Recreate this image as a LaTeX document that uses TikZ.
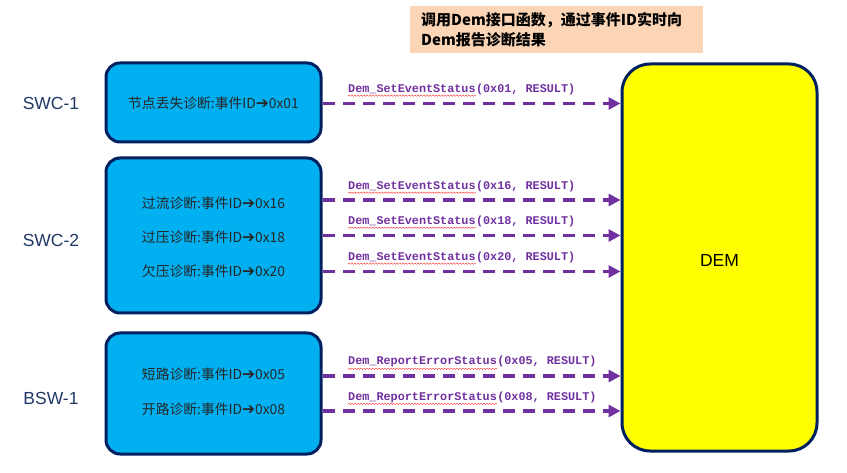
\documentclass[tikz,border=0pt]{standalone}
\usepackage{fontspec}
\setmainfont{Liberation Sans}
\newfontfamily\cjk{Noto Sans CJK SC}
\newfontfamily\fnfont{Liberation Mono}
\newfontfamily\dv{DejaVu Sans}
\usetikzlibrary{arrows.meta,decorations.pathmorphing}
\definecolor{navy}{HTML}{002060}
\definecolor{boxblue}{HTML}{00B0F0}
\definecolor{demyellow}{HTML}{FFFF00}
\definecolor{peach}{HTML}{FBD5B5}
\definecolor{purp}{HTML}{7030A0}
\definecolor{lbl}{HTML}{1F3864}
\begin{document}
\begin{tikzpicture}[x=1pt,y=-1pt,
  swbox/.style={draw=navy,line width=3pt,fill=boxblue,rounded corners=14pt,minimum width=215pt,inner sep=0pt},
  dembox/.style={draw=navy,line width=3pt,fill=demyellow,rounded corners=28pt,minimum width=195pt,minimum height=387pt,inner sep=0pt},
  intext/.style={font=\cjk\fontsize{13.8}{16}\selectfont,text=black!85,inner sep=1pt},
  side/.style={font=\fontsize{17.5}{20}\selectfont,text=lbl},
  arr/.style={draw=purp,line width=3.3pt,dash pattern=on 12pt off 8pt,-{Triangle[length=12pt,width=12pt]}},
  fn/.style={font=\fnfont\bfseries\fontsize{11.8}{13}\selectfont,text=purp,inner sep=0pt},
  wave/.style={draw=red!75,line width=0.45pt,decorate,decoration={snake,amplitude=0.7pt,segment length=3pt}}
]
\useasboundingbox (0,0) rectangle (847,473);

% note
\node[fill=peach,minimum width=293pt,minimum height=47pt,inner sep=0pt] (note) at (556.5,29.5) {};
\node[anchor=west,font=\cjk\bfseries\fontsize{15}{20}\selectfont,align=left,text=black,inner sep=0pt] (notetext) at (421,30)
  {调用Dem接口函数，通过事件ID实时向\\Dem报告诊断结果};

% boxes
\node[swbox,minimum height=79pt] (s1) at (213.5,102.5) {};
\node[swbox,minimum height=155pt] (s2) at (213.5,235.5) {};
\node[swbox,minimum height=121pt] (s3) at (213.5,393.5) {};
\node[dembox] (dem) at (719.5,257.5) {};
\node[font=\fontsize{17.5}{20}\selectfont] (demt) at (719.5,260) {DEM};

% side labels
\node[side] (l1) at (51,103) {SWC-1};
\node[side] (l2) at (51,240) {SWC-2};
\node[side] (l3) at (51,398) {BSW-1};

% box texts
\newcommand{\arrowsym}{{\dv\fontsize{15.5}{14}\selectfont ➔}}
\node[intext] (t1) at (213.5,103) {节点丢失诊断:事件ID\arrowsym0x01};
\node[intext] (t21) at (213.5,203) {过流诊断:事件ID\arrowsym0x16};
\node[intext] (t22) at (213.5,237) {过压诊断:事件ID\arrowsym0x18};
\node[intext] (t23) at (213.5,271) {欠压诊断:事件ID\arrowsym0x20};
\node[intext] (t31) at (213.5,374) {短路诊断:事件ID\arrowsym0x05};
\node[intext] (t32) at (213.5,409) {开路诊断:事件ID\arrowsym0x08};

% arrow rows
\coordinate (a1) at (470,103.5);
\coordinate (a21) at (470,200);
\coordinate (a22) at (470,235.5);
\coordinate (a23) at (470,271.5);
\coordinate (a31) at (470,376);
\coordinate (a32) at (470,411);

\draw[arr] (s1.east |- a1) -- (dem.west |- a1);
\draw[arr] (s2.east |- a21) -- (dem.west |- a21);
\draw[arr] (s2.east |- a22) -- (dem.west |- a22);
\draw[arr] (s2.east |- a23) -- (dem.west |- a23);
\draw[arr] (s3.east |- a31) -- (dem.west |- a31);
\draw[arr] (s3.east |- a32) -- (dem.west |- a32);

% labels
\node[fn,anchor=base west] (f1) at (348,93) {Dem\_SetEventStatus};
\node[fn,anchor=base west] (g1) at (f1.base east) {(0x01, RESULT)};
\node[fn,anchor=base west] (f21) at (348,190) {Dem\_SetEventStatus};
\node[fn,anchor=base west] (g21) at (f21.base east) {(0x16, RESULT)};
\node[fn,anchor=base west] (f22) at (348,225) {Dem\_SetEventStatus};
\node[fn,anchor=base west] (g22) at (f22.base east) {(0x18, RESULT)};
\node[fn,anchor=base west] (f23) at (348,261) {Dem\_SetEventStatus};
\node[fn,anchor=base west] (g23) at (f23.base east) {(0x20, RESULT)};
\node[fn,anchor=base west] (f31) at (348,365) {Dem\_ReportErrorStatus};
\node[fn,anchor=base west] (g31) at (f31.base east) {(0x05, RESULT)};
\node[fn,anchor=base west] (f32) at (348,400) {Dem\_ReportErrorStatus};
\node[fn,anchor=base west] (g32) at (f32.base east) {(0x08, RESULT)};

\foreach \f in {f1,f21,f22,f23,f31,f32}
  \draw[wave] ([yshift=-1.2pt]\f.south west) -- ([yshift=-1.2pt]\f.south east);
\end{tikzpicture}
\end{document}
